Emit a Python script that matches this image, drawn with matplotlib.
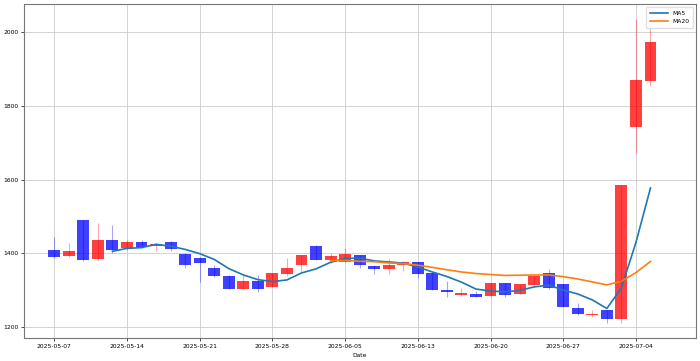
import numpy as np
import pandas as pd
import matplotlib
matplotlib.use("Agg")
import matplotlib.pyplot as plt

# trading days (KRX calendar), one candle per day
dates = ["2025-05-07", "2025-05-08", "2025-05-09", "2025-05-12", "2025-05-13",
         "2025-05-14", "2025-05-15", "2025-05-16", "2025-05-19", "2025-05-20",
         "2025-05-21", "2025-05-22", "2025-05-23", "2025-05-26", "2025-05-27",
         "2025-05-28", "2025-05-29", "2025-05-30", "2025-06-02", "2025-06-04",
         "2025-06-05", "2025-06-09", "2025-06-10", "2025-06-11", "2025-06-12",
         "2025-06-13", "2025-06-16", "2025-06-17", "2025-06-18", "2025-06-19",
         "2025-06-20", "2025-06-23", "2025-06-24", "2025-06-25", "2025-06-26",
         "2025-06-27", "2025-06-30", "2025-07-01", "2025-07-02", "2025-07-03",
         "2025-07-04", "2025-07-07"]

opens = [1410, 1392, 1490, 1383, 1437, 1414, 1431, 1420, 1431, 1399,
         1386, 1361, 1338, 1302, 1325, 1309, 1345, 1367, 1420, 1381,
         1376, 1396, 1365, 1358, 1369, 1375, 1347, 1300, 1287, 1290,
         1283, 1320, 1289, 1314, 1347, 1316, 1252, 1233, 1245, 1221,
         1743, 1868]
highs = [1444, 1428, 1490, 1481, 1476, 1435, 1437, 1429, 1433, 1401,
         1390, 1367, 1341, 1341, 1341, 1347, 1386, 1396, 1421, 1401,
         1415, 1396, 1368, 1385, 1378, 1376, 1350, 1324, 1306, 1298,
         1319, 1320, 1316, 1338, 1356, 1316, 1265, 1247, 1247, 1586,
         2035, 2030]
lows = [1386, 1390, 1380, 1381, 1401, 1410, 1414, 1406, 1405, 1361,
        1322, 1336, 1302, 1302, 1295, 1309, 1338, 1349, 1381, 1373,
        1376, 1361, 1345, 1345, 1352, 1334, 1300, 1280, 1285, 1280,
        1282, 1281, 1289, 1314, 1304, 1253, 1232, 1227, 1211, 1211,
        1672, 1853]
closes = [1391, 1407, 1381, 1437, 1410, 1431, 1417, 1426, 1411, 1367,
          1374, 1338, 1302, 1325, 1303, 1347, 1361, 1396, 1381, 1392,
          1398, 1367, 1358, 1367, 1376, 1345, 1300, 1296, 1291, 1282,
          1319, 1288, 1316, 1338, 1306, 1253, 1234, 1236, 1221, 1586,
          1870, 1973]

df = pd.DataFrame({"Open": opens, "High": highs, "Low": lows, "Close": closes},
                  index=pd.to_datetime(dates))
df["MA5"] = df["Close"].rolling(5).mean()
df["MA20"] = df["Close"].rolling(20).mean()

x = np.arange(len(df))
up = df["Close"] >= df["Open"]
cols = np.where(up, "red", "blue")

plt.rcParams["font.size"] = 4.3
fig = plt.figure(figsize=(7, 3.61), dpi=100)
ax = fig.add_axes([0.0343, 0.0637, 0.96, 0.925])

# wicks
ax.vlines(x, df["Low"], df["High"], colors=cols, lw=0.8, alpha=0.35)
# bodies
ax.bar(x, df["Close"] - df["Open"], bottom=df["Open"], width=0.82,
       color=cols, alpha=0.75, linewidth=0)

ax.plot(x, df["MA5"], color="#1f77b4", lw=1.2, label="MA5")
ax.plot(x, df["MA20"], color="#ff7f0e", lw=1.2, label="MA20")

ticks = x[::5]
ax.set_xticks(ticks)
ax.set_xticklabels([dates[i] for i in ticks])
ax.set_xlim(-2.08, 44.13)
ax.set_ylim(1170, 2076)
ax.set_yticks([1200, 1400, 1600, 1800, 2000])
ax.set_xlabel("Date", labelpad=3)
ax.grid(True, color="#cccccc", lw=0.6)
ax.set_axisbelow(True)
ax.tick_params(length=2, width=0.5, pad=2)
for s in ax.spines.values():
    s.set_color("#777777")
    s.set_linewidth(0.8)

ax.legend(loc="upper right", fontsize=4.3, handlelength=3, borderpad=0.6,
          framealpha=0.9, edgecolor="#dddddd")

fig.savefig("out.png", dpi=100)
